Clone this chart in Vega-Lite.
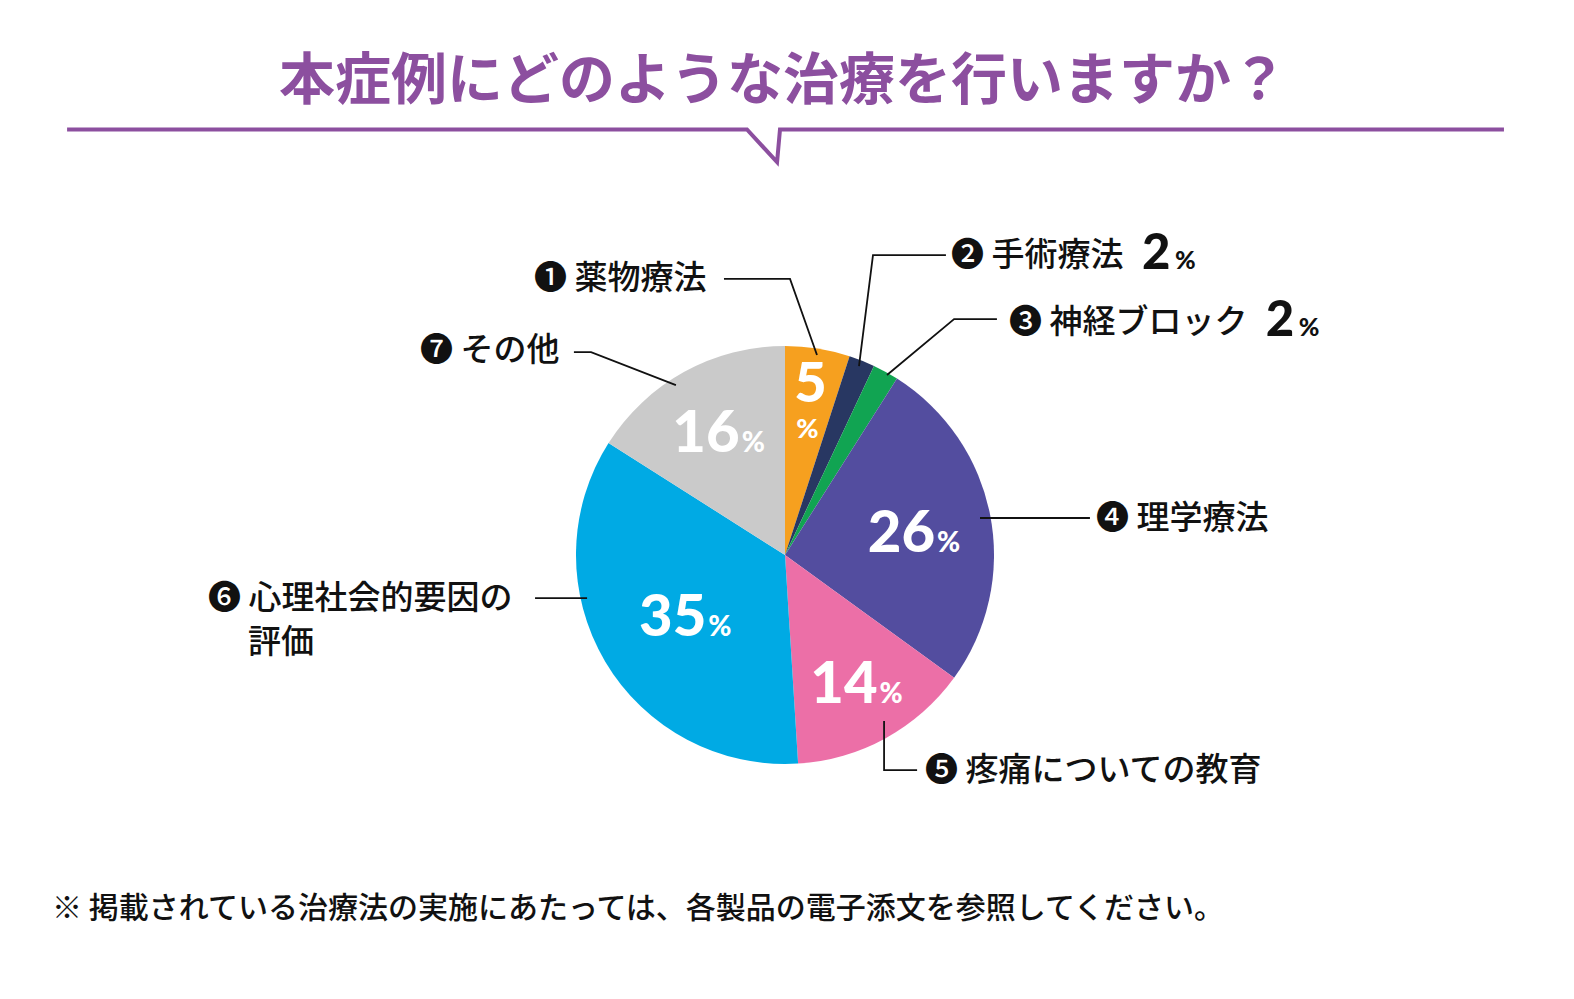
{
  "$schema": "https://vega.github.io/schema/vega-lite/v6.json",
  "autosize": {"type": "fit", "contains": "padding"},
  "width": 1574,
  "height": 999,
  "padding": 0,
  "background": "#ffffff",
  "config": {"view": {"stroke": null}},
  "datasets": {
    "slices": [
      {"key": "薬物療法", "value": 5, "order": 1},
      {"key": "手術療法", "value": 2, "order": 2},
      {"key": "神経ブロック", "value": 2, "order": 3},
      {"key": "理学療法", "value": 26, "order": 4},
      {"key": "疼痛についての教育", "value": 14, "order": 5},
      {"key": "心理社会的要因の評価", "value": 35, "order": 6},
      {"key": "その他", "value": 16, "order": 7}
    ],
    "bubble": [
      {"seq": 1, "x": -3.435, "y": 2.036},
      {"seq": 2, "x": -0.182, "y": 2.036},
      {"seq": 3, "x": -0.038, "y": 1.88},
      {"seq": 4, "x": -0.024, "y": 2.036},
      {"seq": 5, "x": 3.44, "y": 2.036}
    ],
    "leaders": [
      {"id": 1, "seq": 1, "x": -0.292, "y": 1.321},
      {"id": 1, "seq": 2, "x": 0.024, "y": 1.321},
      {"id": 1, "seq": 3, "x": 0.153, "y": 0.957},
      {"id": 2, "seq": 1, "x": 0.77, "y": 1.435},
      {"id": 2, "seq": 2, "x": 0.421, "y": 1.435},
      {"id": 2, "seq": 3, "x": 0.354, "y": 0.904},
      {"id": 3, "seq": 1, "x": 1.014, "y": 1.129},
      {"id": 3, "seq": 2, "x": 0.809, "y": 1.129},
      {"id": 3, "seq": 3, "x": 0.488, "y": 0.861},
      {"id": 4, "seq": 1, "x": 0.933, "y": 0.177},
      {"id": 4, "seq": 2, "x": 1.459, "y": 0.177},
      {"id": 5, "seq": 1, "x": 0.474, "y": -0.794},
      {"id": 5, "seq": 2, "x": 0.474, "y": -1.029},
      {"id": 5, "seq": 3, "x": 0.632, "y": -1.029},
      {"id": 6, "seq": 1, "x": -1.196, "y": -0.206},
      {"id": 6, "seq": 2, "x": -0.947, "y": -0.206},
      {"id": 7, "seq": 1, "x": -1.01, "y": 0.971},
      {"id": 7, "seq": 2, "x": -0.928, "y": 0.971},
      {"id": 7, "seq": 3, "x": -0.522, "y": 0.813}
    ],
    "labels": [
      {"text": "❶ 薬物療法", "x": -1.201, "y": 1.321},
      {"text": "❷ 手術療法", "x": 0.794, "y": 1.431},
      {"text": "❸ 神経ブロック", "x": 1.072, "y": 1.11},
      {"text": "❹ 理学療法", "x": 1.488, "y": 0.172},
      {"text": "❺ 疼痛についての教育", "x": 0.67, "y": -1.033},
      {"text": "❻ 心理社会的要因の", "x": -2.761, "y": -0.21},
      {"text": "評価", "x": -2.569, "y": -0.42},
      {"text": "❼ その他", "x": -1.746, "y": 0.976}
    ],
    "callouts": [
      {"key": "手術療法", "x": 1.708, "y": 1.368},
      {"key": "神経ブロック", "x": 2.3, "y": 1.046}
    ]
  },
  "layer": [
    {
      "data": {"name": "bubble"},
      "mark": {"type": "line", "stroke": "#8c4f9f", "strokeWidth": 4, "strokeJoin": "miter"},
      "encoding": {
        "x": {"field": "x", "type": "quantitative", "scale": {"domain": [-3.756, 3.7751], "nice": false, "zero": false}, "axis": null},
        "y": {"field": "y", "type": "quantitative", "scale": {"domain": [-2.1244, 2.6555], "nice": false, "zero": false}, "axis": null},
        "order": {"field": "seq"}
      }
    },
    {
      "data": {"name": "slices"},
      "mark": {"type": "arc", "outerRadius": 209},
      "encoding": {
        "x": {"datum": 0, "type": "quantitative", "scale": {"domain": [-3.756, 3.7751], "nice": false, "zero": false}, "axis": null},
        "y": {"datum": 0, "type": "quantitative", "scale": {"domain": [-2.1244, 2.6555], "nice": false, "zero": false}, "axis": null},
        "theta": {"field": "value", "type": "quantitative", "stack": true},
        "order": {"field": "order"},
        "color": {
          "field": "key", "type": "nominal", "legend": null,
          "scale": {
            "domain": ["薬物療法", "手術療法", "神経ブロック", "理学療法", "疼痛についての教育", "心理社会的要因の評価", "その他"],
            "range": ["#f6a01f", "#283762", "#11a452", "#534d9f", "#ec6fa7", "#00aae4", "#cacaca"]
          }
        }
      }
    },
    {
      "data": {"name": "leaders"},
      "mark": {"type": "line", "stroke": "#111111", "strokeWidth": 1.8},
      "encoding": {
        "x": {"field": "x", "type": "quantitative", "scale": {"domain": [-3.756, 3.7751], "nice": false, "zero": false}, "axis": null},
        "y": {"field": "y", "type": "quantitative", "scale": {"domain": [-2.1244, 2.6555], "nice": false, "zero": false}, "axis": null},
        "detail": {"field": "id", "type": "nominal"},
        "order": {"field": "seq"}
      }
    },
    {
      "data": {"name": "slices"},
      "transform": [
        {"window": [{"op": "sum", "field": "value", "as": "cum"}], "sort": [{"field": "order"}], "frame": [null, 0]},
        {"filter": "datum.value >= 10"},
        {"calculate": "(datum.cum - datum.value / 2) / 100 * 2 * PI", "as": "ang"},
        {"calculate": "0.775 - 0.006 * datum.value", "as": "rad"},
        {"calculate": "datum.rad * sin(datum.ang)", "as": "lx"},
        {"calculate": "datum.rad * cos(datum.ang)", "as": "ly"}
      ],
      "encoding": {
        "x": {"field": "lx", "type": "quantitative", "scale": {"domain": [-3.756, 3.7751], "nice": false, "zero": false}, "axis": null},
        "y": {"field": "ly", "type": "quantitative", "scale": {"domain": [-2.1244, 2.6555], "nice": false, "zero": false}, "axis": null}
      },
      "layer": [
        {
          "mark": {"type": "text", "align": "right", "baseline": "alphabetic", "dx": 23, "dy": 21, "font": "Lato", "fontWeight": 900, "fontSize": 58, "fill": "#ffffff"},
          "encoding": {"text": {"field": "value", "type": "quantitative"}}
        },
        {
          "mark": {"type": "text", "align": "left", "baseline": "alphabetic", "dx": 25, "dy": 21, "font": "Lato", "fontWeight": 900, "fontSize": 28, "fill": "#ffffff", "text": "%"}
        }
      ]
    },
    {
      "data": {"name": "slices"},
      "transform": [
        {"window": [{"op": "sum", "field": "value", "as": "cum"}], "sort": [{"field": "order"}], "frame": [null, 0]},
        {"filter": "datum.value >= 3 && datum.value < 10"},
        {"calculate": "(datum.cum - datum.value / 2) / 100 * 2 * PI", "as": "ang"},
        {"calculate": "0.775 - 0.006 * datum.value", "as": "rad"},
        {"calculate": "datum.rad * sin(datum.ang)", "as": "lx"},
        {"calculate": "datum.rad * cos(datum.ang)", "as": "ly"}
      ],
      "encoding": {
        "x": {"field": "lx", "type": "quantitative", "scale": {"domain": [-3.756, 3.7751], "nice": false, "zero": false}, "axis": null},
        "y": {"field": "ly", "type": "quantitative", "scale": {"domain": [-2.1244, 2.6555], "nice": false, "zero": false}, "axis": null}
      },
      "layer": [
        {
          "mark": {"type": "text", "align": "center", "baseline": "alphabetic", "dx": 1, "dy": 1, "font": "Lato", "fontWeight": 900, "fontSize": 56, "fill": "#ffffff"},
          "encoding": {"text": {"field": "value", "type": "quantitative"}}
        },
        {
          "mark": {"type": "text", "align": "center", "baseline": "alphabetic", "dx": -2, "dy": 37, "font": "Lato", "fontWeight": 900, "fontSize": 27, "fill": "#ffffff", "text": "%"}
        }
      ]
    },
    {
      "data": {"name": "labels"},
      "mark": {"type": "text", "align": "left", "baseline": "middle", "font": "Noto Sans CJK JP", "fontWeight": 500, "fontSize": 33, "fill": "#111111"},
      "encoding": {
        "x": {"field": "x", "type": "quantitative", "scale": {"domain": [-3.756, 3.7751], "nice": false, "zero": false}, "axis": null},
        "y": {"field": "y", "type": "quantitative", "scale": {"domain": [-2.1244, 2.6555], "nice": false, "zero": false}, "axis": null},
        "text": {"field": "text", "type": "nominal"}
      }
    },
    {
      "data": {"name": "callouts"},
      "transform": [
        {"lookup": "key", "from": {"data": {"name": "slices"}, "key": "key", "fields": ["value"]}}
      ],
      "encoding": {
        "x": {"field": "x", "type": "quantitative", "scale": {"domain": [-3.756, 3.7751], "nice": false, "zero": false}, "axis": null},
        "y": {"field": "y", "type": "quantitative", "scale": {"domain": [-2.1244, 2.6555], "nice": false, "zero": false}, "axis": null}
      },
      "layer": [
        {
          "mark": {"type": "text", "align": "left", "baseline": "alphabetic", "font": "Lato", "fontWeight": 900, "fontSize": 49, "fill": "#111111"},
          "encoding": {"text": {"field": "value", "type": "quantitative"}}
        },
        {
          "mark": {"type": "text", "align": "left", "baseline": "alphabetic", "dx": 33, "font": "Lato", "fontWeight": 900, "fontSize": 25, "fill": "#111111", "text": "%"}
        }
      ]
    },
    {
      "data": {"values": [{}]},
      "mark": {"type": "text", "align": "center", "baseline": "middle", "font": "Noto Sans CJK JP", "fontWeight": "bold", "fontSize": 56, "fill": "#8c4f9f", "text": "本症例にどのような治療を行いますか？"},
      "encoding": {
        "x": {"datum": -0.01, "type": "quantitative", "scale": {"domain": [-3.756, 3.7751], "nice": false, "zero": false}, "axis": null},
        "y": {"datum": 2.264, "type": "quantitative", "scale": {"domain": [-2.1244, 2.6555], "nice": false, "zero": false}, "axis": null}
      }
    },
    {
      "data": {"values": [{}]},
      "mark": {"type": "text", "align": "left", "baseline": "middle", "font": "Noto Sans CJK JP", "fontWeight": 500, "fontSize": 30, "fill": "#111111", "text": "※ 掲載されている治療法の実施にあたっては、各製品の電子添文を参照してください。"},
      "encoding": {
        "x": {"datum": -3.507, "type": "quantitative", "scale": {"domain": [-3.756, 3.7751], "nice": false, "zero": false}, "axis": null},
        "y": {"datum": -1.693, "type": "quantitative", "scale": {"domain": [-2.1244, 2.6555], "nice": false, "zero": false}, "axis": null}
      }
    }
  ]
}
